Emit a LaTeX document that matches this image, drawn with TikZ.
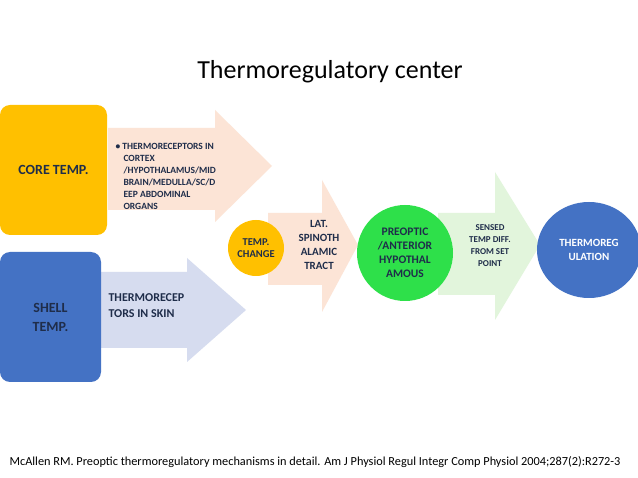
\documentclass[tikz,border=0pt]{standalone}
\usepackage{fontspec}
\setmainfont{Carlito}
\usetikzlibrary{shapes.geometric}
\definecolor{ink}{HTML}{1F2D4A}
\definecolor{gold}{HTML}{FFC000}
\definecolor{blu}{HTML}{4472C4}
\definecolor{peach}{HTML}{FCE4D6}
\definecolor{lav}{HTML}{D6DCEF}
\definecolor{lgreen}{HTML}{E2F5DC}
\definecolor{grn}{HTML}{2EE04A}
\tikzset{lbl/.style={text=ink,font=\bfseries\fontsize{10.5}{12.5}\selectfont,align=center},
 arr/.style={draw=none}}
\begin{document}
\begin{tikzpicture}[x=1pt,y=-1pt]
\useasboundingbox[fill=white] (0,0) rectangle (638,478);
\node[font=\fontsize{26}{30}\selectfont] (title) at (330,72) {Thermoregulatory center};
% arrows
\fill[peach] (108,128)--(215,128)--(215,110)--(272,166)--(215,222)--(215,210)--(108,210)--cycle;
\fill[lav] (101,272)--(187,272)--(187,258)--(246,310)--(187,362)--(187,348)--(101,348)--cycle;
\fill[peach] (268,213)--(322,213)--(322,180)--(358,245)--(322,312)--(322,285)--(268,285)--cycle;
\fill[lgreen] (438,213)--(495,213)--(495,172)--(540,245)--(495,320)--(495,295)--(438,295)--cycle;
% boxes
\node[fill=gold,rounded corners=10pt,minimum width=107pt,minimum height=130pt,lbl,font=\bfseries\fontsize{14}{17}\selectfont] (core) at (53.5,170) {CORE TEMP.};
\node[fill=blu,rounded corners=10pt,minimum width=101pt,minimum height=130pt,lbl,font=\bfseries\fontsize{14}{19}\selectfont] (shell) at (50.5,317) {SHELL\\TEMP.};
\node[lbl,align=left,anchor=north west,font=\bfseries\fontsize{9.5}{12}\selectfont] (t1) at (112,140) {\textbullet\ THERMORECEPTORS IN\\\hspace*{8pt}CORTEX\\\hspace*{8pt}/HYPOTHALAMUS/MID\\\hspace*{8pt}BRAIN/MEDULLA/SC/D\\\hspace*{8pt}EEP ABDOMINAL\\\hspace*{8pt}ORGANS};
\node[lbl,align=left,anchor=west,font=\bfseries\fontsize{12}{16}\selectfont] (t2) at (105,306) {THERMORECEP\\TORS IN SKIN};
\node[circle,fill=gold,minimum size=56pt,inner sep=0pt,lbl] (tc) at (256,248) {TEMP.\\CHANGE};
\node[lbl,font=\bfseries\fontsize{11}{14}\selectfont] (t3) at (319,245) {LAT.\\SPINOTH\\ALAMIC\\TRACT};
\node[circle,fill=grn,minimum size=96pt,inner sep=0pt,lbl,font=\bfseries\fontsize{11.5}{14}\selectfont] (pre) at (405,253) {PREOPTIC\\/ANTERIOR\\HYPOTHAL\\AMOUS};
\node[lbl,font=\bfseries\fontsize{9}{12}\selectfont] (t4) at (490,246) {SENSED\\TEMP DIFF.\\FROM SET\\POINT};
\node[ellipse,fill=blu,minimum width=104pt,minimum height=96pt,inner sep=0pt,lbl,text=white,font=\bfseries\fontsize{11}{14}\selectfont] (thr) at (589,250) {THERMOREG\\ULATION};
\node[anchor=west,font=\fontsize{12.3}{14}\selectfont] (cite) at (6,462) {McAllen RM. Preoptic thermoregulatory mechanisms in detail. Am J Physiol Regul Integr Comp Physiol 2004;287(2):R272-3};
\end{tikzpicture}
\end{document}
